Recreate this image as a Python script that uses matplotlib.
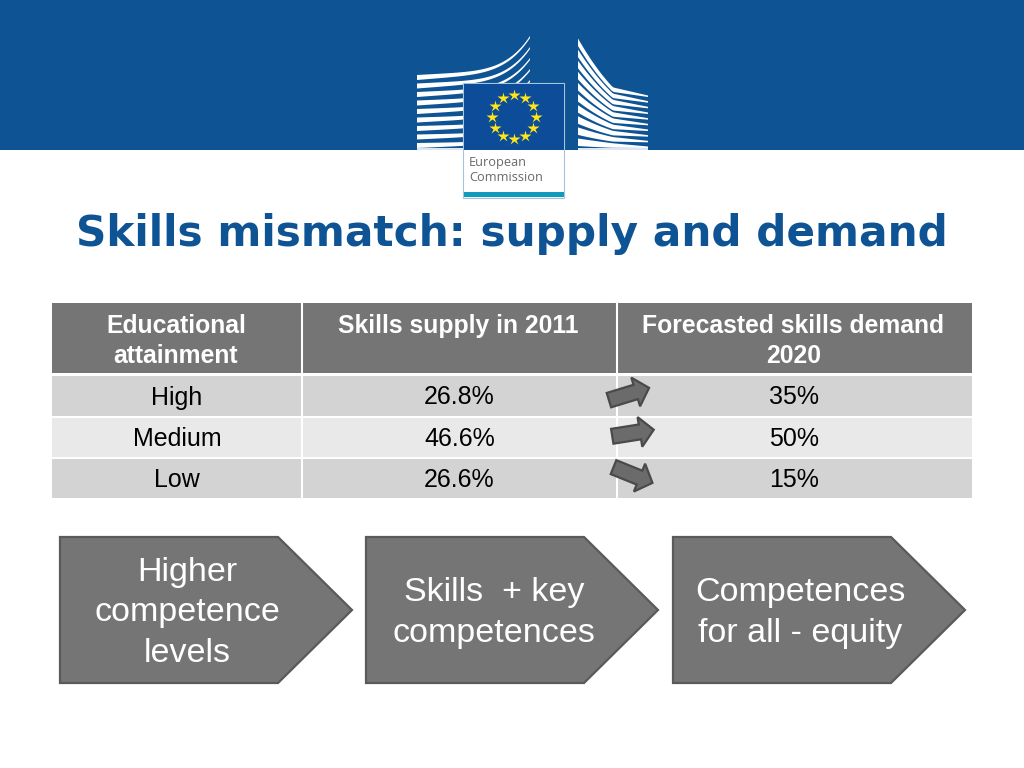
import numpy as np
import matplotlib
matplotlib.use("Agg")
import matplotlib.pyplot as plt
from matplotlib.patches import Polygon, Rectangle

TITLE = "Skills mismatch: supply and demand"
HEADERS = ["Educational\nattainment", "Skills supply in 2011", "Forecasted skills demand\n2020"]
LEVELS = ["High", "Medium", "Low"]
SUPPLY = ["26.8%", "46.6%", "26.6%"]
DEMAND = ["35%", "50%", "15%"]
ARROW_ANGLES = [17, 9, -22]
BOXES = ["Higher\ncompetence\nlevels", "Skills  + key\ncompetences", "Competences\nfor all - equity"]

BLUE = "#0E5494"
GREY = "#757575"
FONT = "Liberation Sans"

fig = plt.figure(figsize=(10.24, 7.68), dpi=100, facecolor="white")
ax = fig.add_axes([0, 0, 1, 1])
ax.set_xlim(0, 1024)
ax.set_ylim(768, 0)
ax.axis("off")

# banner
ax.add_patch(Rectangle((0, 0), 1024, 150, fc=BLUE, ec="none", zorder=1))

# building, left wing
for i, y0 in enumerate(np.linspace(80, 148, 9)):
    xs = np.linspace(417, 530, 40)
    t = (xs - 417) / 113
    top = 38 + i * 11
    base = y0 - (y0 - top) * (0.22 * t + 0.78 * t ** 5)
    th = 5.0 * (1 - t) + 2.0 * t
    ax.add_patch(Polygon(np.r_[np.c_[xs, np.minimum(base - th, 150)],
                               np.c_[xs[::-1], np.minimum(base, 150)[::-1]]],
                         fc="white", ec="none", zorder=2))
# building, right wing
for i, (y0, y1) in enumerate(zip(np.linspace(46, 146, 10), np.linspace(97, 148, 10))):
    xs = np.linspace(578, 648, 40)
    t = (xs - 578) / 70
    k = np.clip(t / 0.5, 0, 1)
    ym = y0 + (y1 - y0) * ((0.7 * k + 0.3 * k * (2 - k)) * 0.8 + 0.2 * t)
    th = 7.5 - 6.0 * t
    ax.add_patch(Polygon(np.r_[np.c_[xs, ym - th], np.c_[xs[::-1], ym[::-1]]],
                         fc="white", ec="none", zorder=2))
ax.add_patch(Rectangle((578, 148), 70, 2, fc="#DDE6F0", ec="none", zorder=2))
ax.add_patch(Rectangle((417, 148), 47, 2, fc="#DDE6F0", ec="none", zorder=2))

# emblem
ax.add_patch(Rectangle((463, 83), 101, 115, fc="white", ec="#A9C4D8", lw=0.8, zorder=3))
ax.add_patch(Rectangle((464, 84), 100, 66, fc="#0C4C98", ec="none", zorder=4))
ax.add_patch(Rectangle((464, 192), 100, 5, fc="#0F9BBE", ec="none", zorder=4))
ang = np.deg2rad(np.arange(0, 360, 30))
ax.plot(514 + 22 * np.cos(ang), 117 + 22 * np.sin(ang), ls="none", marker="*", ms=9,
        mfc="#FFE51A", mec="none", zorder=5)
ax.text(469, 170, "European\nCommission", family="Open Sans", fontsize=9.2, color="#6A6A6A",
        va="center", ha="left", linespacing=1.15, zorder=5)

# title
ax.text(512, 234, TITLE, family="DejaVu Sans", weight="bold", fontsize=30.4, color=BLUE,
        ha="center", va="center")

# table
col_edges = [52, 302, 617, 972]
row_edges = [(376, 416), (418, 457), (459, 498)]
row_fill = ["#D3D3D3", "#E9E9E9", "#D3D3D3"]
for j in range(3):
    x0, x1 = col_edges[j], col_edges[j + 1]
    ax.add_patch(Rectangle((x0, 303), x1 - x0, 70, fc=GREY, ec="none", zorder=1))
    if "\n" in HEADERS[j]:
        ax.text((x0 + x1) / 2 - 1, 341, HEADERS[j], family=FONT, weight="bold", fontsize=17.8, color="white",
                ha="center", va="center", linespacing=1.34, zorder=3)
    else:
        ax.text((x0 + x1) / 2 - 1, 326.5, HEADERS[j], family=FONT, weight="bold", fontsize=17.8, color="white",
                ha="center", va="center", zorder=3)
    cols = [LEVELS, SUPPLY, DEMAND][j]
    for i, (y0, y1) in enumerate(row_edges):
        ax.add_patch(Rectangle((x0, y0), x1 - x0, y1 - y0, fc=row_fill[i], ec="none", zorder=1))
        ax.text((x0 + x1) / 2, (y0 + y1) / 2 + 1.5, cols[i], family=FONT, fontsize=18, color="black",
                ha="center", va="center", zorder=3)
for xv in col_edges[1:3]:
    ax.plot([xv, xv], [303, 498], color="white", lw=1.5, zorder=2)

# arrows
arrow_shape = np.array([[-21, -7.5], [7, -7.5], [7, -15], [21, 0], [7, 15], [7, 7.5], [-21, 7.5]])
for i, (y0, y1) in enumerate(row_edges):
    a = np.deg2rad(-ARROW_ANGLES[i])
    rot = np.array([[np.cos(a), -np.sin(a)], [np.sin(a), np.cos(a)]])
    pts = arrow_shape @ rot.T + [[629, 394], [633, 433], [633, 475]][i]
    ax.add_patch(Polygon(pts, fc="#6B6B6B", ec="#4A4A4A", lw=1.6, zorder=4))

# pentagons
for i, x0 in enumerate([60, 366, 673]):
    pts = [(x0, 537), (x0 + 218, 537), (x0 + 292, 610), (x0 + 218, 683), (x0, 683)]
    ax.add_patch(Polygon(pts, fc=GREY, ec="#5A5A5A", lw=1.6, joinstyle="miter", zorder=2))
    ax.text(x0 + [127, 128, 127][i], 613, BOXES[i], family=FONT, fontsize=24.5, color="white",
            ha="center", va="center", linespacing=1.38, zorder=3)

fig.savefig("out.png", dpi=100)
